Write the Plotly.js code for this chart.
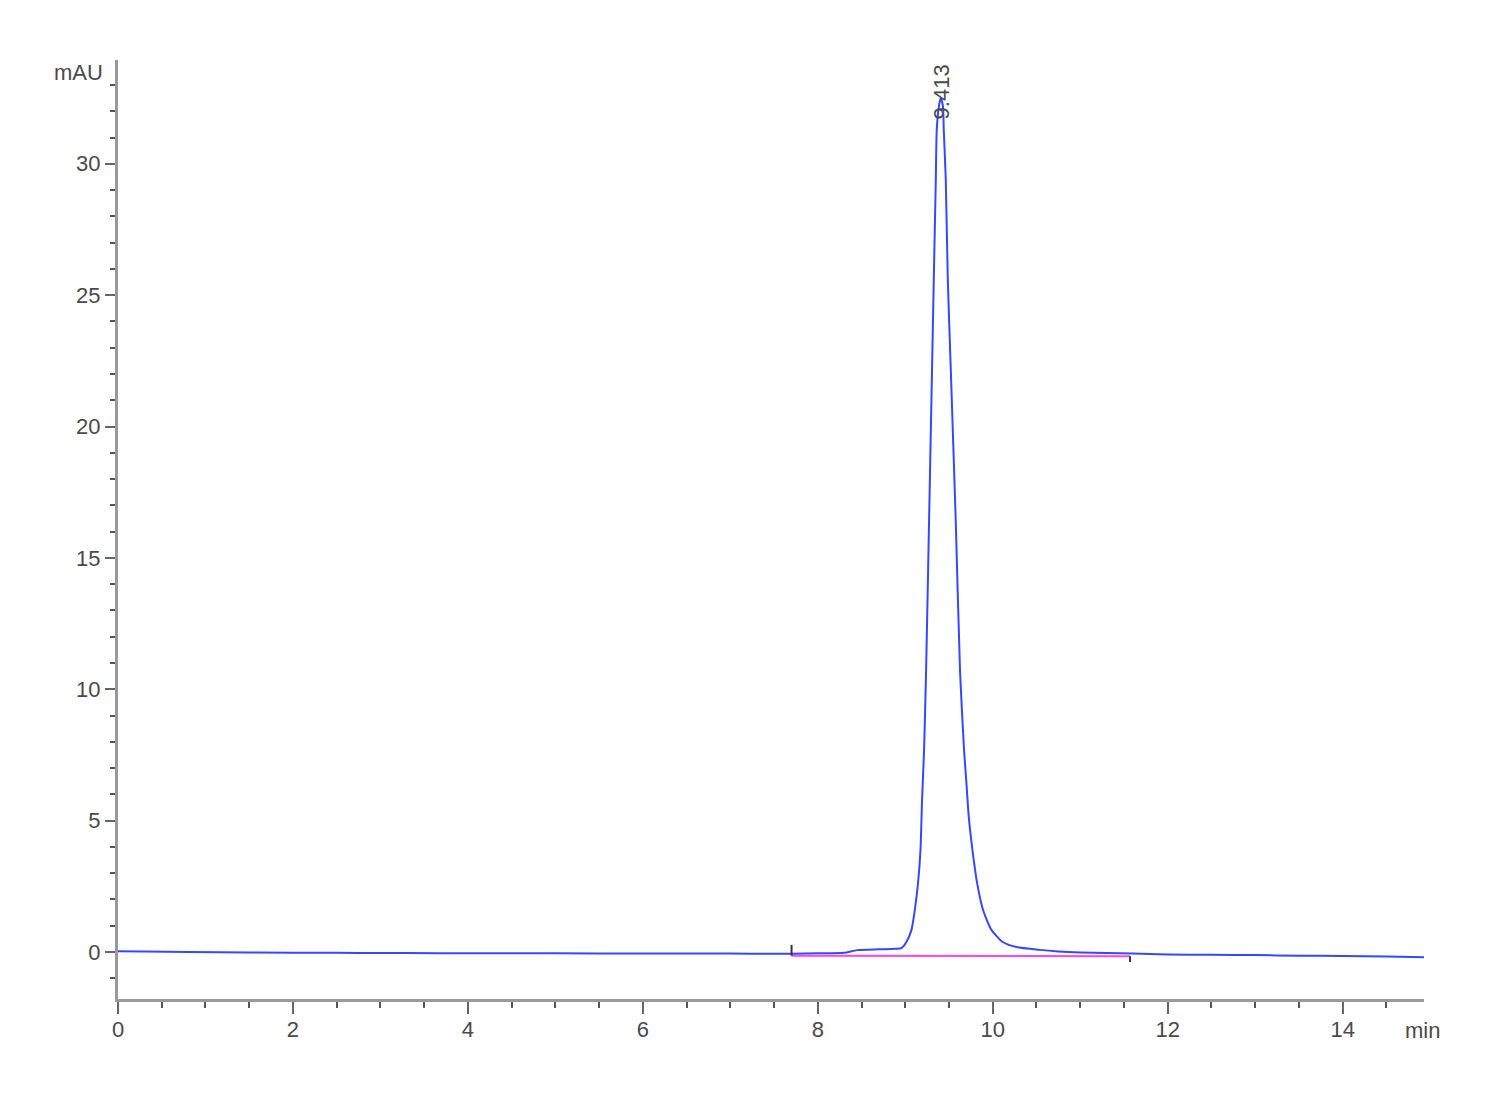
<!DOCTYPE html>
<html>
<head>
<meta charset="utf-8">
<script src="https://cdn.plot.ly/plotly-3.0.1.min.js"></script>
<style>html,body{margin:0;padding:0;background:#fff;}#chart{width:1500px;height:1100px;}</style>
</head>
<body>
<div id="chart"></div>
<script>
// Chromatogram signal (time in min, absorbance in mAU)
var timeMin = [0, 0.3, 0.8, 1.5, 2.5, 3.0, 3.3, 4.0, 5.0, 6.0, 7.0, 7.5, 7.7, 8.0, 8.3, 8.45, 8.7, 8.88,
  8.956, 9.013, 9.071, 9.109, 9.146, 9.174, 9.192, 9.215, 9.238, 9.272, 9.306, 9.326, 9.349, 9.36, 9.385, 9.405,
  9.43, 9.44, 9.463, 9.486, 9.52, 9.577, 9.626, 9.672, 9.699, 9.726, 9.768, 9.821, 9.889, 9.985,
  10.114, 10.271, 10.537, 10.75, 11.0, 11.3, 11.6, 12.0, 12.5, 13.0, 13.5, 14.0, 14.5, 14.93];
var signalMAU = [0.03, 0.02, 0.0, -0.02, -0.03, -0.04, -0.04, -0.05, -0.05, -0.06, -0.06, -0.07, -0.07, -0.05, -0.03, 0.07, 0.1, 0.12,
  0.15, 0.38, 0.84, 1.6, 2.63, 3.88, 5.79, 7.69, 10.7, 16.4, 22.2, 25.6, 29.4, 31.3, 32.2, 32.5,
  32.2, 31.3, 29.4, 25.6, 22.2, 16.4, 10.7, 7.69, 6.43, 5.14, 3.88, 2.63, 1.6, 0.84,
  0.38, 0.19, 0.08, 0.02, -0.02, -0.04, -0.06, -0.1, -0.11, -0.12, -0.14, -0.15, -0.17, -0.2];

// Integration baseline and its start / end markers
var baselineTime = [7.70, 11.57];
var baselineMAU = [-0.14, -0.16];
var startMarkTime = [7.70, 7.70];
var startMarkMAU = [-0.14, 0.27];
var endMarkTime = [11.57, 11.57];
var endMarkMAU = [-0.16, -0.38];

// Peak label
var peakTime = 9.413;
var peakLabel = "9.413";

// Axis ticks
var xTicks = [0, 2, 4, 6, 8, 10, 12, 14];
var xTickLabels = ["0", "2", "4", "6", "8", "10", "12", "14"];
var yTicks = [0, 5, 10, 15, 20, 25, 30];
var yTickLabels = ["0", "5", "10", "15", "20", "25", "30"];

var tickFont = {family: "Liberation Sans Narrow, Liberation Sans, Arial, sans-serif", size: 22, color: "#4a4a4a"};

var traces = [
  {x: baselineTime, y: baselineMAU, mode: "lines", line: {color: "#ff44ee", width: 2}, hoverinfo: "skip"},
  {x: timeMin, y: signalMAU, mode: "lines", line: {color: "#3548ff", width: 2, shape: "spline", smoothing: 0.6}},
  {x: startMarkTime, y: startMarkMAU, mode: "lines", line: {color: "#333", width: 2}},
  {x: endMarkTime, y: endMarkMAU, mode: "lines", line: {color: "#333", width: 2}}
];

var layout = {
  width: 1500, height: 1100,
  margin: {l: 118, r: 76, t: 60, b: 101},
  paper_bgcolor: "#fff", plot_bgcolor: "#fff",
  showlegend: false,
  xaxis: {
    range: [0, 14.93], showgrid: false, zeroline: false,
    showline: true, linecolor: "#9a9a9a", linewidth: 3,
    tickmode: "array", tickvals: xTicks, ticktext: xTickLabels,
    ticks: "outside", ticklen: 12, tickwidth: 2, tickcolor: "#666",
    ticklabelstandoff: -3,
    minor: {dtick: 0.5, ticks: "outside", ticklen: 6, tickwidth: 2, tickcolor: "#555", showgrid: false},
    tickfont: tickFont
  },
  yaxis: {
    range: [-1.79, 33.95], showgrid: false, zeroline: false,
    showline: true, linecolor: "#9a9a9a", linewidth: 3,
    tickmode: "array", tickvals: yTicks, ticktext: yTickLabels,
    ticks: "outside", ticklen: 10, tickwidth: 2, tickcolor: "#666",
    ticklabelstandoff: 0,
    minor: {dtick: 1, ticks: "outside", ticklen: 5, tickwidth: 2, tickcolor: "#555", showgrid: false},
    tickfont: tickFont
  },
  annotations: [
    {text: "mAU", xref: "paper", yref: "paper", x: 0, y: 1, xanchor: "right", yanchor: "middle",
     xshift: -13, yshift: -12, showarrow: false, font: tickFont},
    {text: "min", xref: "paper", yref: "paper", x: 1, y: 0, xanchor: "left", yanchor: "middle",
     xshift: -21, yshift: -31, showarrow: false, font: tickFont},
    {text: peakLabel, xref: "x", yref: "paper", x: peakTime, y: 1, xanchor: "center", yanchor: "middle",
     yshift: -32, textangle: -90, showarrow: false, font: tickFont}
  ]
};

Plotly.newPlot("chart", traces, layout, {displayModeBar: false, staticPlot: true});
</script>
</body>
</html>
